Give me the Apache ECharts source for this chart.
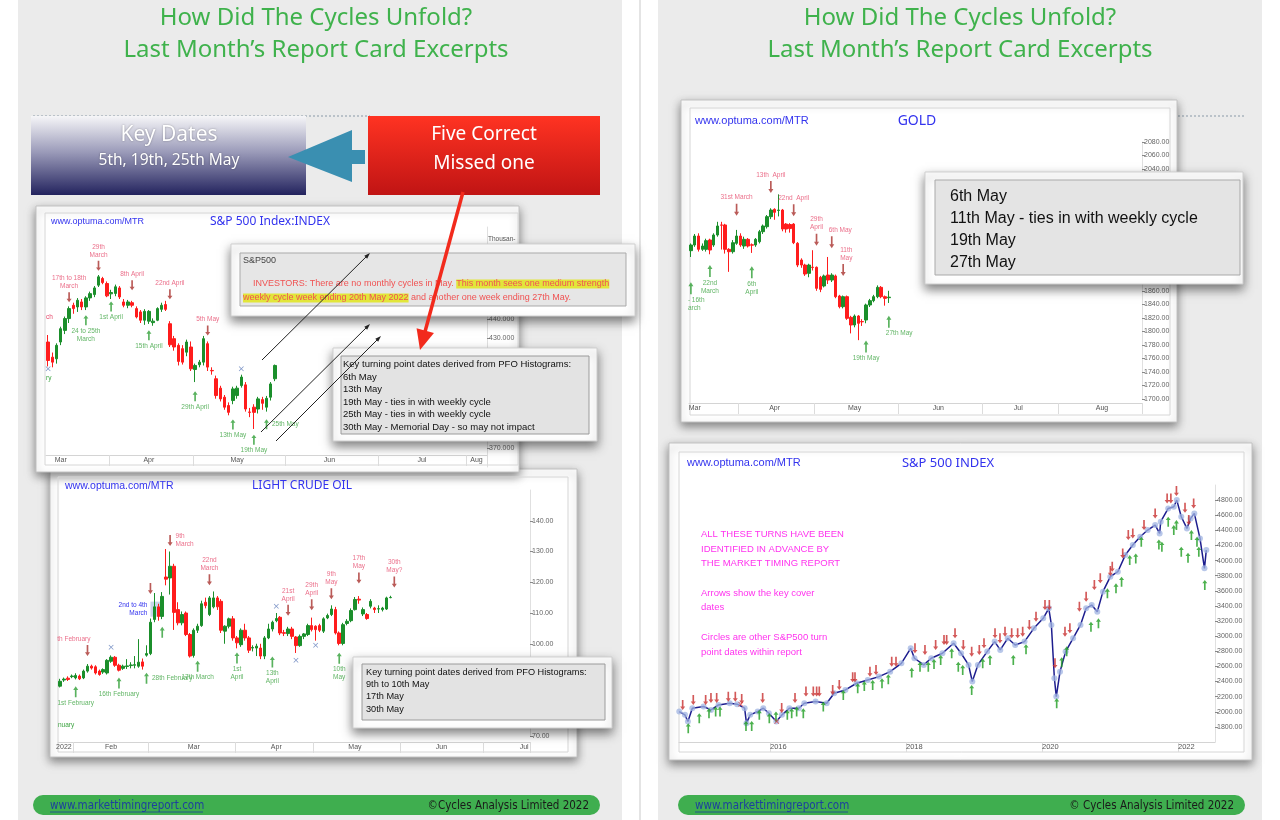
<!DOCTYPE html>
<html>
<head>
<meta charset="utf-8">
<script src="https://cdn.jsdelivr.net/npm/echarts@6.0.0/dist/echarts.min.js"></script>
<style>
html, body { margin: 0; padding: 0; background: #fff; }
#main { width: 1280px; height: 820px; }
</style>
</head>
<body>
<div id="main"></div>
<script>
// ---- S&P 500 Index:INDEX (left, top) [open, close, low, high] ----
const spCandles = [
  [427.7, 417.7, 414.5, 431.5], [419.5, 416.8, 414, 422], [418.6, 425.9, 416, 427], [427.7, 434.9, 426, 436],
  [434.0, 440.4, 432, 441.5], [440.4, 445.8, 438, 447], [447.6, 445.8, 443, 449], [446.7, 450.3, 444, 451.5],
  [449.4, 446.7, 445, 451], [446.7, 451.6, 445, 452.5], [451.6, 453.9, 450, 455], [453.4, 457.0, 452, 458],
  [458.5, 463.0, 457.5, 464], [462.1, 459.9, 459, 463], [459.4, 452.7, 452, 460.5], [453.8, 454.5, 451, 456],
  [454.0, 457.6, 452.5, 458.8], [457.0, 452.1, 451, 458], [449.4, 447.6, 446.5, 451], [447.6, 449.4, 446, 450.5],
  [449.0, 447.6, 446.5, 450], [445.8, 441.3, 440.5, 447], [444.0, 439.5, 438, 445], [439.5, 444.3, 437, 445.5],
  [439.0, 444.3, 437.5, 445], [438.2, 439.0, 436.5, 440.5], [439.5, 445.8, 439, 446.5], [445.4, 447.6, 444, 449],
  [448.0, 445.4, 444.5, 450], [437.6, 426.2, 425, 439], [429.5, 425.0, 423, 431], [425.9, 417.2, 415, 427],
  [424.1, 416.8, 415.5, 426], [422.2, 427.7, 420, 429], [425.0, 413.2, 412, 428], [412.8, 415.0, 406, 416],
  [415.4, 416.8, 414, 418], [416.8, 429.5, 415, 431], [426.8, 414.1, 412, 428], [412.3, 412.1, 410, 414],
  [407.8, 398.7, 397, 409.5], [402.7, 396.9, 395.5, 404], [397.8, 392.4, 391, 399], [393.3, 389.6, 388, 395],
  [396.0, 402.3, 394, 403.5], [398.7, 402.7, 397, 404], [404.1, 408.7, 403, 410], [404.5, 391.4, 390, 406],
  [389.8, 389.6, 387, 392], [392.4, 389.6, 380.6, 394], [391.4, 396.9, 389, 398], [396.5, 394.5, 391, 398],
  [392.4, 397.2, 390, 398.5], [397.8, 405.0, 396, 406], [407.8, 415.0, 406.5, 415.5]
]
const spMonths = ['Mar', 'Apr', 'May', 'Jun', 'Jul', 'Aug']
const spMonthLabelSlots = [3, 24, 45, 67, 89, 102]
const spMonthStartSlots = [15, 35, 57, 79, 100]
const spDownArrows = [
  [5, 452, '17th to 18th\nMarch', 'top'], [12, 469, '29th\nMarch', 'top'], [20, 458.5, '8th April', 'top'],
  [29, 453.6, '22nd April', 'top'], [38, 434, '5th May', 'top']
]
const spUpArrows = [
  [9, 439.5, '24 to 25th\nMarch', 'bottom'], [15, 447, '1st April', 'bottom'], [24, 431.3, '15th April', 'bottom'],
  [35, 398.3, '29th April', 'bottom'], [44, 383, '13th May', 'bottom'], [49, 374.8, '19th May', 'bottom'],
  [52, 383.1, '25th May', 'right']
]
const spCrosses = [[0, 413.2], [46, 413.2]]

// ---- LIGHT CRUDE OIL (left, bottom) ----
const crudeCandles = [
  [86.2, 87.8, 85.8, 88.6], [88.2, 88.5, 87.6, 89.0], [88.8, 88.4, 87.9, 89.4], [89.3, 89.5, 88.8, 90.0],
  [88.9, 89.7, 88.4, 90.4], [89.5, 88.6, 88.2, 90.0], [88.9, 91.1, 88.5, 91.6], [91.1, 92.7, 90.6, 93.4],
  [92.7, 92.1, 91.6, 93.2], [92.5, 90.5, 90.0, 93.0], [91.1, 90.0, 89.6, 91.6], [90.8, 91.6, 90.2, 92.0],
  [90.5, 94.6, 90.0, 95.0], [94.3, 95.6, 93.8, 96.2], [95.6, 93.0, 92.5, 96.0], [93.0, 91.4, 91.0, 93.5],
  [92.0, 92.7, 91.5, 93.2], [92.6, 92.8, 91.8, 95.0], [92.9, 93.1, 92.0, 94.0], [93.0, 93.2, 92.0, 96.0],
  [92.7, 94.0, 92.2, 101.5], [94.1, 92.7, 91.6, 95.2], [96.3, 96.8, 95.8, 99.5], [96.8, 107.0, 96.3, 108.2],
  [107.9, 112.0, 107.0, 116.5], [112.0, 108.9, 107.5, 113.0], [108.9, 115.4, 108.0, 116.8], [121.7, 121.0, 119.0, 130.8],
  [121.4, 125.2, 116.0, 130.0], [125.2, 110.2, 104.5, 126.0], [111.1, 106.8, 106.0, 113.5], [106.8, 109.5, 106.0, 110.5],
  [110.0, 103.0, 102.5, 110.5], [103.0, 96.0, 95.5, 103.5], [96.2, 104.4, 95.5, 105.0], [104.4, 105.7, 103.5, 106.5],
  [105.9, 113.0, 105.5, 114.0], [113.5, 112.4, 111.5, 115.0], [109.5, 114.9, 109.0, 115.5], [112.0, 114.9, 111.5, 117.0],
  [114.9, 112.0, 111.0, 115.5], [113.8, 104.4, 103.5, 114.5], [104.1, 105.7, 100.0, 106.0], [105.7, 108.1, 105.0, 108.5],
  [108.1, 101.9, 101.0, 109.0], [101.9, 100.3, 98.5, 102.5], [99.7, 104.4, 99.0, 105.0], [104.4, 101.9, 101.0, 106.5],
  [101.9, 97.9, 97.0, 102.5], [98.6, 98.8, 97.5, 99.5], [98.6, 99.2, 96.0, 100.0], [98.6, 96.0, 95.0, 100.0],
  [96.0, 101.9, 95.0, 102.5], [101.9, 104.8, 101.5, 106.5], [104.8, 107.0, 104.0, 107.5], [107.5, 108.2, 107.0, 110.0],
  [108.6, 103.5, 102.8, 109.0], [103.6, 103.4, 102.5, 104.5], [103.3, 104.8, 102.5, 105.5], [104.8, 102.4, 101.5, 105.5],
  [102.2, 99.4, 97.0, 102.5], [99.4, 102.4, 99.0, 103.0], [102.4, 103.2, 101.5, 103.5], [103.0, 105.9, 102.5, 106.5],
  [105.9, 104.6, 104.0, 108.5], [105.7, 104.6, 101.0, 106.0], [105.9, 104.4, 103.8, 106.5], [104.1, 108.1, 103.5, 108.6],
  [108.4, 109.2, 108.0, 109.8], [109.5, 111.3, 109.0, 112.5], [111.1, 103.5, 103.0, 112.0], [103.5, 100.1, 99.5, 104.0],
  [100.1, 106.2, 99.5, 106.8], [106.6, 107.3, 106.0, 108.0], [107.5, 110.8, 107.0, 111.5], [111.1, 114.4, 110.8, 115.2],
  [114.5, 114.2, 113.0, 115.5], [109.7, 111.1, 109.0, 111.8], [109.5, 108.2, 107.8, 110.0], [112.2, 113.8, 111.5, 114.5],
  [111.6, 111.1, 110.0, 112.0], [111.3, 111.4, 110.0, 112.5], [111.1, 111.6, 110.5, 112.0], [111.3, 114.9, 111.0, 115.3],
  [115.0, 115.07, 114.8, 115.6]
]
const crudeMonths = ['2022', 'Feb', 'Mar', 'Apr', 'May', 'Jun', 'Jul']
const crudeMonthLabelSlots = [1, 13, 34, 55, 75, 97, 118]
const crudeMonthStartSlots = [4, 23, 45, 65, 87, 108]
const crudeDownArrows = [
  [7, 97.8, 'th February', 'topLeft'], [23, 118.0, '', 'top'], [28, 133.6, '9th\nMarch', 'right'],
  [38, 120.8, '22nd\nMarch', 'top'], [58, 110.9, '21st\nApril', 'top'], [64, 112.7, '29th\nApril', 'top'],
  [69, 116.3, '9th\nMay', 'top'], [76, 121.4, '17th\nMay', 'top'], [85, 120.1, '30th\nMay?', 'top']
]
const crudeUpArrows = [
  [4, 84.4, '1st February', 'bottom'], [15, 87.2, '16th February', 'bottom'], [22, 88.8, '28th February', 'right'],
  [26, 103.7, '', 'bottom'], [35, 92.7, '17th March', 'bottom'], [45, 95.4, '1st\nApril', 'bottom'],
  [54, 94.1, '13th\nApril', 'bottom'], [71, 95.3, '10th\nMay', 'bottom']
]
const crudeCrosses = [[13, 98.9], [55, 112.2], [60, 94.6], [65, 99.5]]
const crudeShade = [23, 26, 113.7, 108.8]
const crudeLast = 115.07

// ---- GOLD (right, top) ----
const goldCandles = [
  [1919.3, 1927.7, 1910, 1930], [1927.7, 1941.0, 1925, 1944], [1941.0, 1921.3, 1918, 1945], [1921.3, 1926.2, 1919, 1930],
  [1921.3, 1934.1, 1918, 1937], [1935.1, 1920.3, 1914, 1937], [1927.7, 1942.5, 1925, 1945], [1942.5, 1955.8, 1940, 1962],
  [1957.3, 1957.0, 1921, 1962], [1957.3, 1921.3, 1915, 1959], [1921.3, 1917.8, 1888, 1923], [1917.8, 1931.1, 1915, 1935],
  [1930.2, 1941.0, 1928, 1950], [1941.0, 1927.7, 1925, 1945], [1926.2, 1936.1, 1922, 1940], [1936.1, 1926.2, 1924, 1938],
  [1927.9, 1927.5, 1916, 1930], [1927.7, 1936.1, 1925, 1938], [1932.6, 1947.4, 1930, 1950], [1947.4, 1955.8, 1944, 1958],
  [1954.8, 1969.6, 1952, 1972], [1969.6, 1979.4, 1966, 1982], [1980.4, 1976.0, 1965, 1982], [1978.8, 1979.4, 1970, 2002.6],
  [1979.4, 1951.3, 1948, 1981], [1958.7, 1951.3, 1946, 1960], [1958.0, 1952.0, 1946, 1960], [1958.7, 1931.1, 1929, 1960],
  [1930.2, 1898.1, 1895, 1932], [1905.5, 1898.1, 1894, 1908], [1898.1, 1884.8, 1882, 1900], [1885.8, 1898.1, 1880, 1900],
  [1894.9, 1894.5, 1890, 1920], [1894.7, 1863.6, 1860, 1896], [1879.9, 1862.1, 1858, 1882], [1867.1, 1881.9, 1865, 1884],
  [1883.3, 1875.9, 1870, 1910], [1875.9, 1883.3, 1873, 1886], [1881.9, 1851.3, 1849, 1884], [1852.3, 1836.5, 1834, 1854],
  [1836.5, 1851.3, 1834, 1853], [1851.3, 1819.3, 1817, 1853], [1820.7, 1809.4, 1797, 1823], [1809.4, 1822.7, 1806, 1825],
  [1822.7, 1811.9, 1787, 1824], [1814.5, 1814.1, 1808, 1818], [1816.8, 1839.0, 1812, 1841], [1839.0, 1845.4, 1836, 1848],
  [1845.4, 1851.3, 1843, 1854], [1851.3, 1865.1, 1849, 1868], [1865.1, 1851.3, 1849, 1867], [1851.3, 1848.8, 1838, 1853],
  [1849.8, 1850.6, 1842, 1860]
]
const goldMonths = ['Mar', 'Apr', 'May', 'Jun', 'Jul', 'Aug']
const goldMonthLabelSlots = [1, 22, 43, 65, 86, 108]
const goldMonthStartSlots = [13, 33, 55, 77, 97]
const goldDownArrows = [
  [12, 1980, '31st March', 'top'], [21, 2013.5, '13th  April', 'top'], [27, 1979, '22nd  April', 'top'],
  [33, 1935.6, '29th\nApril', 'top'], [37, 1931.6, '6th May', 'topRight'], [40, 1890.7, '11th\nMay', 'topRight']
]
const goldUpArrows = [
  [0, 1863.6, '- 16th\narch', 'bottomRight'], [5, 1889.2, '22nd\nMarch', 'bottom'], [16, 1887.3, '6th\nApril', 'bottom'],
  [46, 1777.8, '19th May', 'bottom'], [52, 1814.3, '27th May', 'bottomRight']
]
const goldLast = 1850.6

// ---- S&P 500 INDEX long view (right, bottom) ----
const spxYears = [
  2014.666, 2014.749, 2014.793, 2014.858, 2015.023, 2015.133, 2015.243, 2015.407, 2015.517, 2015.627,
  2015.654, 2015.709, 2015.819, 2015.901, 2015.984, 2016.093, 2016.176, 2016.285, 2016.423, 2016.505,
  2016.670, 2016.834, 2016.944, 2017.109, 2017.273, 2017.438, 2017.603, 2017.767, 2017.932, 2018.069,
  2018.124, 2018.261, 2018.371, 2018.536, 2018.700, 2018.810, 2018.920, 2018.975, 2019.057, 2019.194,
  2019.304, 2019.386, 2019.496, 2019.606, 2019.743, 2019.880, 2020.018, 2020.100, 2020.138, 2020.182,
  2020.210, 2020.265, 2020.347, 2020.457, 2020.566, 2020.649, 2020.731, 2020.813, 2020.896, 2021.005,
  2021.115, 2021.225, 2021.335, 2021.444, 2021.554, 2021.664, 2021.730, 2021.746, 2021.856, 2021.938,
  2021.982, 2022.048, 2022.131, 2022.186, 2022.240, 2022.323, 2022.389, 2022.416
]
const spxValues = [
  2003, 1959, 1871, 2047, 2069, 2025, 2091, 2113, 2100, 2047,
  1849, 1959, 2003, 2047, 1981, 1871, 1959, 2047, 2047, 2113,
  2135, 2113, 2245, 2289, 2377, 2421, 2465, 2531, 2641, 2840,
  2708, 2620, 2708, 2774, 2906, 2774, 2620, 2400, 2620, 2796,
  2928, 2818, 2972, 2884, 2928, 3104, 3236, 3368, 3148, 2443,
  2201, 2531, 2796, 2972, 3148, 3368, 3412, 3324, 3589, 3787,
  3853, 4073, 4206, 4315, 4404, 4470, 4360, 4514, 4690, 4712,
  4800, 4580, 4426, 4558, 4624, 4293, 3897, 4139
]
const spxDownArrows = [
  [2014.716, 2091], [2014.872, 2157], [2015.054, 2157], [2015.132, 2183], [2015.216, 2183], [2015.387, 2200],
  [2015.49, 2200], [2015.584, 2170], [2015.892, 2183], [2016.172, 2051], [2016.368, 2183], [2016.529, 2267],
  [2016.637, 2267], [2016.686, 2267], [2016.725, 2267], [2016.922, 2289], [2017.019, 2355], [2017.216, 2457],
  [2017.25, 2457], [2017.47, 2531], [2017.559, 2553], [2017.79, 2663], [2017.853, 2663], [2018.132, 2840],
  [2018.279, 2818], [2018.436, 2884], [2018.559, 2950], [2018.598, 2950], [2018.721, 3038], [2018.843, 2884],
  [2018.966, 2795], [2019.078, 2818], [2019.147, 2906], [2019.309, 3038], [2019.382, 2972], [2019.456, 3060],
  [2019.554, 3038], [2019.642, 3038], [2019.716, 3060], [2019.814, 3148], [2019.912, 3258], [2020.044, 3412],
  [2020.108, 3412], [2020.191, 2642], [2020.338, 3060], [2020.41, 3104], [2020.55, 3390], [2020.649, 3522],
  [2020.77, 3677], [2020.857, 3765], [2021.005, 3862], [2021.033, 3919], [2021.187, 4095], [2021.269, 4337],
  [2021.335, 4359], [2021.5, 4470], [2021.664, 4624], [2021.84, 4822], [2021.895, 4822], [2021.977, 4919],
  [2022.103, 4699], [2022.158, 4536], [2022.23, 4756]
]
const spxUpArrows = [
  [2014.798, 1783], [2014.96, 1915], [2015.103, 1981], [2015.201, 2003], [2015.265, 2003], [2015.647, 1813],
  [2015.731, 1813], [2015.843, 1959], [2015.99, 1915], [2016.088, 1937], [2016.255, 1959], [2016.319, 1981],
  [2016.392, 2003], [2016.49, 1981], [2016.784, 2069], [2017.078, 2223], [2017.29, 2311], [2017.387, 2340],
  [2017.51, 2355], [2017.647, 2378], [2017.74, 2430], [2018.084, 2518], [2018.206, 2597], [2018.328, 2597],
  [2018.412, 2632], [2018.51, 2685], [2018.672, 2773], [2018.769, 2597], [2018.834, 2553], [2018.966, 2289],
  [2019.128, 2641], [2019.235, 2685], [2019.578, 2685], [2019.765, 2827], [2020.216, 2113], [2020.29, 2655],
  [2020.363, 2800], [2020.72, 3126], [2020.83, 3170], [2020.962, 3567], [2021.088, 3633], [2021.17, 3721],
  [2021.29, 4007], [2021.379, 4029], [2021.46, 4249], [2021.719, 4214], [2021.763, 4183], [2021.856, 4514],
  [2021.938, 4404], [2021.977, 4470], [2022.048, 4117], [2022.147, 4038], [2022.197, 4337], [2022.279, 4249],
  [2022.306, 4117], [2022.394, 3677]
]
const spxCrosses = [[2015.57, 2100], [2016.1, 1870]]
const spxYearTicks = [2016, 2018, 2020, 2022]

// ---- styles ----
const FONT = 'Liberation Sans'
const NARROW = "'Liberation Sans Narrow', 'DejaVu Sans Condensed', sans-serif"
const TITLE_GREEN = '#3fb24c'
const CHART_BLUE = '#3333ee'
const UP = '#1b8f2b'
const DOWN = '#ff1c1c'
const ARROW_DOWN = '#a9322e'
const ARROW_UP = '#2f9f36'
const LABEL_RED = '#e64a6c'
const LABEL_GREEN = '#3aa33f'
const ARROW_PATH = 'path://M2,0 L4,0 L4,8 L6,8 L3,12 L0,8 L2,8 Z'
const CROSS_PATH = 'path://M0,1 L1,0 L5,4 L9,0 L10,1 L6,5 L10,9 L9,10 L5,6 L1,10 L0,9 L4,5 Z'

let grids = []
let xAxes = []
let yAxes = []
let series = []

function annoLabel (text, pos, color) {
  let label = {show: text !== '', formatter: text, color: color, fontSize: 6.5, lineHeight: 8, fontFamily: FONT}
  if (pos === 'top') Object.assign(label, {position: 'top', distance: 2})
  if (pos === 'bottom') Object.assign(label, {position: 'bottom', distance: 2})
  if (pos === 'right') Object.assign(label, {position: 'right', distance: 3})
  if (pos === 'topRight') Object.assign(label, {position: 'top', distance: 2, align: 'left', offset: [-3, 0]})
  if (pos === 'topLeft') Object.assign(label, {position: 'top', distance: 2, align: 'right', offset: [3, 0]})
  if (pos === 'bottomRight') Object.assign(label, {position: 'bottom', distance: 2, align: 'left', offset: [-3, 0]})
  return label
}

function arrowSeries (gi, list, dir, size) {
  return {
    type: 'scatter',
    xAxisIndex: gi,
    yAxisIndex: gi,
    symbol: ARROW_PATH,
    symbolRotate: dir === 'up' ? 180 : 0,
    symbolSize: size,
    z: 5,
    silent: true,
    itemStyle: {color: dir === 'up' ? ARROW_UP : ARROW_DOWN},
    data: list.map(a => ({value: [a[0], a[1]], label: annoLabel(a[2], a[3], dir === 'up' ? LABEL_GREEN : LABEL_RED)}))
  }
}

function addCandleChart (c) {
  let gi = grids.length
  grids.push({left: c.left, right: 1280 - c.plotRight, top: c.plotTop, bottom: 820 - c.plotBottom})
  let cats = []
  for (let i = 0; i < c.slots; i++) cats.push(String(i))
  xAxes.push({
    type: 'category',
    gridIndex: gi,
    data: cats,
    boundaryGap: true,
    offset: c.xOffset,
    axisLine: {lineStyle: {color: '#d4d4d4'}},
    axisTick: {show: true, length: 11, lineStyle: {color: '#dcdcdc'}, interval: idx => c.monthStarts.indexOf(idx) >= 0},
    axisLabel: {
      fontSize: 7, color: '#555', margin: 2, fontFamily: FONT,
      interval: idx => c.labelSlots.indexOf(idx) >= 0,
      formatter: (v) => c.months[c.labelSlots.indexOf(Number(v))] || ''
    },
    splitLine: {show: false}
  })
  yAxes.push({
    type: 'value',
    gridIndex: gi,
    position: 'right',
    min: c.min,
    max: c.max,
    interval: c.interval,
    axisLine: {show: true, lineStyle: {color: '#e0e0e0'}},
    axisTick: {show: true, length: 3, lineStyle: {color: '#888'}},
    axisLabel: {
      fontSize: 7, color: '#666', margin: 2, fontFamily: FONT,
      showMinLabel: c.showMinLabel, showMaxLabel: c.showMaxLabel,
      formatter: v => (v > c.labelTop ? '' : v.toFixed(c.decimals))
    },
    splitLine: {show: false}
  })
  let candle = {
    type: 'candlestick',
    xAxisIndex: gi,
    yAxisIndex: gi,
    data: c.candles,
    barWidth: 3,
    silent: true,
    itemStyle: {color: UP, color0: DOWN, borderColor: UP, borderColor0: DOWN, borderWidth: 1}
  }
  if (c.tag) {
    candle.markLine = {
      silent: true,
      symbol: 'none',
      lineStyle: {opacity: 0},
      label: {position: 'end', distance: 2, formatter: c.tag.text, backgroundColor: c.tag.bg, color: '#111', fontSize: 7, padding: [1, 2], fontFamily: FONT},
      data: [{yAxis: c.tag.value}]
    }
  }
  if (c.shade) {
    candle.markArea = {
      silent: true,
      itemStyle: {color: 'rgba(120,150,205,0.4)'},
      label: {show: true, position: 'left', distance: 3, formatter: '2nd to 4th\nMarch', color: CHART_BLUE, fontSize: 6.5, lineHeight: 8, fontFamily: FONT},
      data: [[{coord: [c.shade[0], c.shade[2]]}, {coord: [c.shade[1], c.shade[3]]}]]
    }
  }
  series.push(candle)
  series.push(arrowSeries(gi, c.down, 'down', c.arrowSize))
  series.push(arrowSeries(gi, c.up, 'up', c.arrowSize))
  if (c.crosses) {
    series.push({
      type: 'scatter', xAxisIndex: gi, yAxisIndex: gi, symbol: CROSS_PATH, symbolSize: 5, silent: true, z: 5,
      itemStyle: {color: '#5a78b8'}, data: c.crosses
    })
  }
}

addCandleChart({
  left: 46, plotRight: 487, plotTop: 227, plotBottom: 467, xOffset: -12,
  slots: 105, min: 360, max: 490, interval: 10, decimals: 3, showMinLabel: false, showMaxLabel: false, labelTop: 470,
  months: spMonths, labelSlots: spMonthLabelSlots, monthStarts: spMonthStartSlots,
  candles: spCandles, down: spDownArrows, up: spUpArrows, crosses: spCrosses, arrowSize: [5, 10]
})
addCandleChart({
  left: 58, plotRight: 530, plotTop: 490, plotBottom: 736, xOffset: 6,
  slots: 120, min: 70, max: 150, interval: 10, decimals: 2, showMinLabel: true, showMaxLabel: false, labelTop: 140,
  months: crudeMonths, labelSlots: crudeMonthLabelSlots, monthStarts: crudeMonthStartSlots,
  candles: crudeCandles, down: crudeDownArrows, up: crudeUpArrows, crosses: crudeCrosses, arrowSize: [5, 11],
  tag: {value: crudeLast, text: crudeLast.toFixed(2), bg: '#22e02a'}, shade: crudeShade
})
addCandleChart({
  left: 689, plotRight: 1142, plotTop: 142, plotBottom: 399, xOffset: 4,
  slots: 119, min: 1700, max: 2080, interval: 20, decimals: 2, showMinLabel: true, showMaxLabel: true, labelTop: 2080,
  months: goldMonths, labelSlots: goldMonthLabelSlots, monthStarts: goldMonthStartSlots,
  candles: goldCandles, down: goldDownArrows, up: goldUpArrows, arrowSize: [5, 12],
  tag: {value: goldLast, text: '1,850.6', bg: '#f01010'}
})

// long S&P 500 view
let gl = grids.length
grids.push({left: 679, right: 1280 - 1215, top: 485, bottom: 820 - 742})
xAxes.push({
  type: 'value', gridIndex: gl, min: 2014.662, max: 2022.544,
  axisLine: {lineStyle: {color: '#d4d4d4'}},
  axisTick: {show: true, customValues: spxYearTicks, length: 10, lineStyle: {color: '#dcdcdc'}},
  axisLabel: {customValues: spxYearTicks, formatter: v => String(Math.round(v)), align: 'left', fontSize: 7.5, color: '#555', margin: 1, fontFamily: FONT},
  splitLine: {show: false}
})
yAxes.push({
  type: 'value', gridIndex: gl, position: 'right', min: 1600, max: 5000, interval: 200,
  axisLine: {show: true, lineStyle: {color: '#e0e0e0'}},
  axisTick: {show: true, length: 3, lineStyle: {color: '#888'}},
  axisLabel: {fontSize: 7, color: '#666', margin: 2, fontFamily: FONT, showMinLabel: false, showMaxLabel: false, formatter: v => v.toFixed(2)},
  splitLine: {show: false}
})
series.push({
  type: 'line', xAxisIndex: gl, yAxisIndex: gl, silent: true,
  data: spxYears.map((y, i) => [y, spxValues[i]]),
  showSymbol: true, showAllSymbol: true, symbol: 'circle', symbolSize: 6,
  itemStyle: {color: 'rgba(160,180,226,0.75)'},
  lineStyle: {color: '#1d1d8e', width: 1.5}
})
series.push({
  type: 'scatter', xAxisIndex: gl, yAxisIndex: gl, symbol: ARROW_PATH, symbolSize: [5, 10], silent: true, z: 5,
  itemStyle: {color: '#c83030'}, data: spxDownArrows
})
series.push({
  type: 'scatter', xAxisIndex: gl, yAxisIndex: gl, symbol: ARROW_PATH, symbolRotate: 180, symbolSize: [5, 10], silent: true, z: 5,
  itemStyle: {color: '#1f9e22'}, data: spxUpArrows
})
series.push({
  type: 'scatter', xAxisIndex: gl, yAxisIndex: gl, symbol: CROSS_PATH, symbolSize: 5, silent: true, z: 5,
  itemStyle: {color: '#dd3030'}, data: spxCrosses
})

// ---- page furniture ----
let G = []
function rect (x, y, w, h, style, z, r) {
  G.push({type: 'rect', shape: {x: x, y: y, width: w, height: h, r: r || 0}, style: style, z: z, silent: true})
}
function text (x, y, str, style, z) {
  G.push({type: 'text', x: x, y: y, style: Object.assign({text: str, fontFamily: FONT}, style), z: z, silent: true})
}
function line (x1, y1, x2, y2, style, z) {
  G.push({type: 'line', shape: {x1: x1, y1: y1, x2: x2, y2: y2}, style: style, z: z, silent: true})
}
function arrow (x1, y1, x2, y2, len, hw, color, width, z) {
  let d = Math.hypot(x2 - x1, y2 - y1)
  let ux = (x2 - x1) / d
  let uy = (y2 - y1) / d
  let bx = x2 - ux * len
  let by = y2 - uy * len
  line(x1, y1, bx + ux, by + uy, {stroke: color, lineWidth: width}, z)
  G.push({type: 'polygon', shape: {points: [[x2, y2], [bx - uy * hw, by + ux * hw], [bx + uy * hw, by - ux * hw]]}, style: {fill: color}, z: z, silent: true})
}

const cardStyle = {fill: '#fff', stroke: '#c2c2c2', lineWidth: 1, shadowBlur: 9, shadowOffsetY: 4, shadowColor: 'rgba(0,0,0,0.45)'}
const frameStyle = {fill: 'none', stroke: '#d6d6d6', lineWidth: 1}

// slides
rect(18, -30, 604, 880, {fill: '#ebebeb'}, -10, 22)
rect(658, -30, 604, 880, {fill: '#ebebeb'}, -10, 22)
line(640, 0, 640, 820, {stroke: '#c9c9c9', lineWidth: 1}, -10)

for (let cx of [316, 960]) {
  text(cx, 18, 'How Did The Cycles Unfold?', {fill: TITLE_GREEN, fontSize: 24, fontFamily: 'Noto Sans', align: 'center', verticalAlign: 'middle'}, -5)
  text(cx, 50, 'Last Month\u2019s Report Card Excerpts', {fill: TITLE_GREEN, fontSize: 24, fontFamily: 'Noto Sans', align: 'center', verticalAlign: 'middle'}, -5)
}
line(33, 116, 370, 116, {stroke: '#8a9aa8', lineWidth: 1, lineDash: [2, 2]}, -5)
line(1178, 116, 1245, 116, {stroke: '#8a9aa8', lineWidth: 1, lineDash: [2, 2]}, -5)

// key dates / verdict
rect(31, 116, 275, 79, {fill: new echarts.graphic.LinearGradient(0, 0, 0, 1, [
  {offset: 0, color: '#f6f6f8'}, {offset: 0.45, color: '#9c9cba'}, {offset: 1, color: '#23235e'}
])}, -4)
text(169, 135, 'Key Dates', {fill: '#fff', fontSize: 21, fontFamily: 'Noto Sans', align: 'center', verticalAlign: 'middle', textShadowColor: 'rgba(0,0,0,0.35)', textShadowBlur: 2}, -3)
text(169, 161, '5th, 19th, 25th May', {fill: '#fff', fontSize: 15.5, fontFamily: 'Noto Sans', align: 'center', verticalAlign: 'middle', textShadowColor: 'rgba(0,0,0,0.35)', textShadowBlur: 2}, -3)
G.push({type: 'polygon', shape: {points: [[288, 157], [352, 130], [352, 150], [365, 150], [365, 164], [352, 164], [352, 182]]}, style: {fill: '#3a8fb1'}, z: -3, silent: true})
rect(368, 116, 232, 79, {fill: new echarts.graphic.LinearGradient(0, 0, 0, 1, [
  {offset: 0, color: '#ff3322'}, {offset: 1, color: '#c01414'}
])}, -4)
text(484, 135, 'Five Correct', {fill: '#fff', fontSize: 19, fontFamily: 'Noto Sans', align: 'center', verticalAlign: 'middle'}, -3)
text(484, 164, 'Missed one', {fill: '#fff', fontSize: 19, fontFamily: 'Noto Sans', align: 'center', verticalAlign: 'middle'}, -3)

// cards
rect(669, 443, 583, 317, cardStyle, -2)
rect(50, 469, 527, 288, cardStyle, -2)
rect(36, 206, 483, 266, cardStyle, -1)
rect(681, 100, 496, 322, cardStyle, -1)
rect(45, 213, 473, 252, frameStyle, -1)
rect(58, 477, 510, 275, frameStyle, -1)
rect(690, 108, 480, 307, frameStyle, -1)
rect(679, 452, 565, 300, frameStyle, -1)

// chart headers
text(51, 222, 'www.optuma.com/MTR', {fill: CHART_BLUE, fontSize: 9, verticalAlign: 'middle'}, 1)
text(270, 222, 'S&P 500 Index:INDEX', {fill: CHART_BLUE, fontSize: 12, fontFamily: 'Noto Sans', align: 'center', verticalAlign: 'middle'}, 1)
text(488, 239, 'Thousan-', {fill: '#555', fontSize: 6.5, verticalAlign: 'middle'}, 1)
text(46, 317, 'ch', {fill: LABEL_RED, fontSize: 6.5, verticalAlign: 'middle'}, 1)
text(46, 378, 'ry', {fill: LABEL_GREEN, fontSize: 6.5, verticalAlign: 'middle'}, 1)
text(65, 486, 'www.optuma.com/MTR', {fill: CHART_BLUE, fontSize: 10.5, verticalAlign: 'middle'}, 1)
text(302, 486, 'LIGHT CRUDE OIL', {fill: CHART_BLUE, fontSize: 12, fontFamily: 'Noto Sans', align: 'center', verticalAlign: 'middle'}, 1)
text(58, 725, 'nuary', {fill: LABEL_GREEN, fontSize: 6.5, verticalAlign: 'middle'}, 1)
text(695, 121, 'www.optuma.com/MTR', {fill: CHART_BLUE, fontSize: 11, verticalAlign: 'middle'}, 1)
text(917, 121, 'GOLD', {fill: CHART_BLUE, fontSize: 14, fontFamily: 'Noto Sans', align: 'center', verticalAlign: 'middle'}, 1)
text(687, 463, 'www.optuma.com/MTR', {fill: CHART_BLUE, fontSize: 11, verticalAlign: 'middle'}, 1)
text(948, 463, 'S&P 500 INDEX', {fill: CHART_BLUE, fontSize: 13, fontFamily: 'Noto Sans', align: 'center', verticalAlign: 'middle'}, 1)
text(701, 527, 'ALL THESE TURNS HAVE BEEN\nIDENTIFIED IN ADVANCE BY\nTHE MARKET TIMING REPORT\n\nArrows show the key cover\ndates\n\nCircles are other S&P500 turn\npoint dates within report',
  {fill: '#ff33ee', fontSize: 9.5, lineHeight: 14.7, verticalAlign: 'top'}, 1)

// overlay boxes
const boxStyle = {fill: '#fff', stroke: '#cfcfcf', lineWidth: 1, shadowBlur: 10, shadowOffsetY: 5, shadowColor: 'rgba(0,0,0,0.5)'}
rect(231, 244, 404, 72, boxStyle, 20)
rect(240, 253, 386, 53, {fill: '#e6e6e6', stroke: '#a9a9a9', lineWidth: 1}, 21)
text(243, 261, 'S&P500', {fill: '#444', fontSize: 9, verticalAlign: 'middle'}, 22)
text(243, 277, '    {r|INVESTORS: There are no monthly cycles in May. }{h|This month sees one medium strength}\n{h|weekly cycle week ending 20th May 2022}{r| and another one week ending 27th May.}', {
  fontSize: 9, verticalAlign: 'top', lineHeight: 14,
  rich: {
    r: {fill: '#f05252', fontSize: 9, fontFamily: FONT, lineHeight: 14},
    h: {fill: '#f05252', fontSize: 9, fontFamily: FONT, lineHeight: 14, backgroundColor: '#e2e63a'}
  }
}, 22)

rect(333, 348, 264, 93, boxStyle, 20)
rect(341, 356, 248, 78, {fill: '#e3e3e3', stroke: '#9a9a9a', lineWidth: 1}, 21)
text(343, 358, 'Key turning point dates derived from PFO Histograms:\n6th May\n13th May\n19th May - ties in with weekly cycle\n25th May - ties in with weekly cycle\n30th May - Memorial Day - so may not impact',
  {fill: '#111', fontSize: 9.5, lineHeight: 12.6, verticalAlign: 'top'}, 22)

rect(353, 657, 259, 71, boxStyle, 20)
rect(362, 664, 243, 56, {fill: '#e3e3e3', stroke: '#9a9a9a', lineWidth: 1}, 21)
text(366, 666, 'Key turning point dates derived from PFO Histograms:\n9th to 10th May\n17th May\n30th May',
  {fill: '#111', fontSize: 9.2, lineHeight: 12.3, verticalAlign: 'top'}, 22)

rect(925, 172, 318, 112, boxStyle, 20)
rect(935, 180, 305, 95, {fill: '#e4e4e4', stroke: '#a9a9a9', lineWidth: 1}, 21)
text(950, 186, '6th May\n11th May - ties in with weekly cycle\n19th May\n27th May',
  {fill: '#111', fontSize: 16, lineHeight: 22, verticalAlign: 'top'}, 22)

// pointer lines
arrow(262, 360, 370, 253, 6, 2, '#222', 1, 25)
arrow(261, 432, 370, 324, 6, 2, '#222', 1, 25)
arrow(276, 441, 381, 336, 6, 2, '#222', 1, 25)
arrow(463, 192, 420, 350, 20, 9, '#f22a1c', 3.5, 25)

// footers
for (let f of [[33, 600], [678, 1245]]) {
  rect(f[0], 795, f[1] - f[0], 20, {fill: '#3fae4f'}, -5, 10)
  text(f[0] + 17, 806, 'www.markettimingreport.com', {fill: '#1d3f9e', fontSize: 11.5, fontFamily: NARROW, verticalAlign: 'middle'}, -4)
  line(f[0] + 17, 812, f[0] + 170, 812, {stroke: '#1d3f9e', lineWidth: 0.8}, -4)
  text(f[1] - 11, 806, f[0] < 100 ? '\u00a9Cycles Analysis Limited 2022' : '\u00a9 Cycles Analysis Limited 2022', {fill: '#1a1a1a', fontSize: 11.5, fontFamily: NARROW, align: 'right', verticalAlign: 'middle'}, -4)
}

let chart = echarts.init(document.getElementById('main'))
chart.setOption({
  animation: false,
  grid: grids,
  xAxis: xAxes,
  yAxis: yAxes,
  series: series,
  graphic: {elements: G}
})
</script>
</body>
</html>
